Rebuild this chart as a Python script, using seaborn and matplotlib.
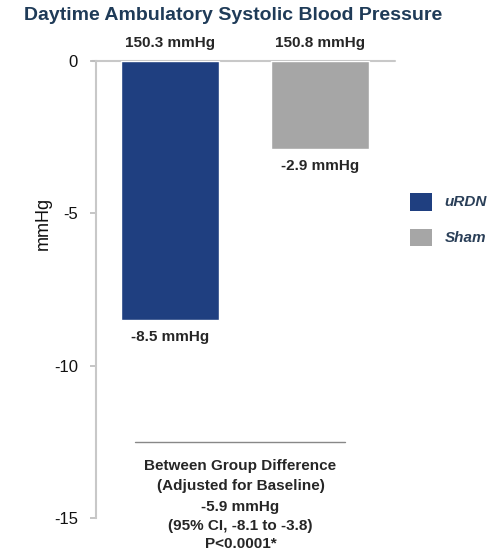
import matplotlib
matplotlib.use("Agg")
import matplotlib.pyplot as plt
from matplotlib.patches import Patch
import seaborn as sns
import pandas as pd

# Dados do gráfico
groups = ["uRDN", "Sham"]
change = [-8.5, -2.9]
baseline_labels = ["150.3 mmHg", "150.8 mmHg"]
change_labels = ["-8.5 mmHg", "-2.9 mmHg"]
colors = ["#1f3f80", "#a6a6a6"]
yticks = [0, -5, -10, -15]
diff_lines = ["Between Group Difference", "(Adjusted for Baseline)",
              "-5.9 mmHg", "(95% CI, -8.1 to -3.8)", "P<0.0001*"]

df = pd.DataFrame({"group": groups, "change": change})

sns.set_style("white")
plt.rcParams["font.family"] = ["Liberation Sans", "DejaVu Sans"]

fig = plt.figure(figsize=(5, 5.56), dpi=100)
ax = fig.add_axes([0.192, 0.0683, 0.598, 0.822])

sns.barplot(data=df, x="group", y="change", hue="group", palette=colors,
            width=0.653, legend=False, ax=ax, saturation=1)

ax.set_ylim(-15, 0)
ax.set_xlim(-0.493, 1.5)
ax.set_yticks(yticks)
ax.set_yticklabels([str(t) for t in yticks], fontsize=12, color="#111111")
ax.set_xticks([])
ax.set_xlabel("")
ax.set_ylabel("mmHg", fontsize=13, color="#111111")
ax.yaxis.set_label_coords(-0.147, 0.645)
ax.tick_params(axis="y", length=4, color="#bbbbbb", width=1.2, pad=9, left=True)

for side in ["top", "right", "bottom"]:
    ax.spines[side].set_visible(False)
ax.spines["left"].set_color("#c8c8c8")
ax.spines["left"].set_linewidth(1.5)
ax.axhline(0, color="#c8c8c8", lw=1.5, xmin=-0.013, clip_on=False, zorder=0)

# rótulos de baseline e variação
for i, (b, c, v) in enumerate(zip(baseline_labels, change_labels, change)):
    ax.text(i, 0.6, b, ha="center", va="center", fontsize=11, fontweight="bold")
    ax.text(i, v - 0.55, c, ha="center", va="center", fontsize=11, fontweight="bold")

# linha separadora e texto da diferença
ax.plot([-0.23, 1.17], [-12.5, -12.5], color="#888888", lw=1)
ys = [-13.3, -13.95, -14.65, -15.25, -15.85]
for t, y in zip(diff_lines, ys):
    ax.text(0.47, y, t, ha="center", va="center", fontsize=11,
            fontweight="bold", clip_on=False)

fig.text(0.466, 0.973, "Daytime Ambulatory Systolic Blood Pressure",
         ha="center", va="center", fontsize=14, fontweight="bold", color="#1f3b58")

handles = [Patch(facecolor=c, edgecolor="none") for c in colors]
leg = fig.legend(handles, groups, loc="center left", bbox_to_anchor=(0.795, 0.605),
                 frameon=False, handlelength=1.6, handleheight=1.6,
                 labelspacing=1.3, handletextpad=0.9)
for txt in leg.get_texts():
    txt.set_fontweight("bold")
    txt.set_fontstyle("italic")
    txt.set_color("#2a3f58")
    txt.set_fontsize(11)

fig.savefig("out.png", dpi=100)
